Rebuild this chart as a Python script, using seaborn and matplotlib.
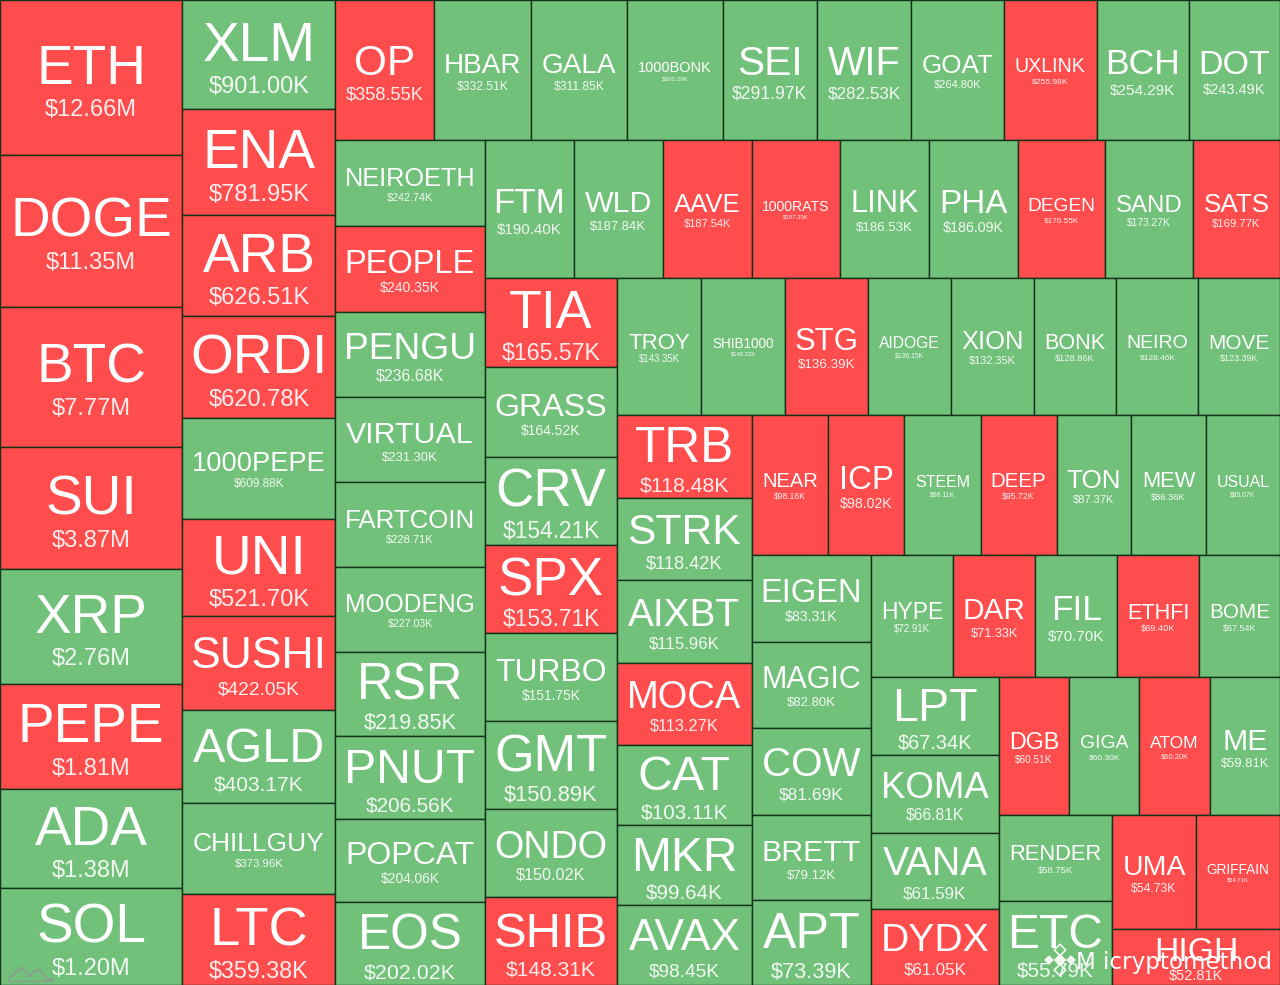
import matplotlib
matplotlib.use("Agg")
import matplotlib.pyplot as plt
from matplotlib.font_manager import FontProperties
from matplotlib.textpath import TextPath
import pandas as pd
import seaborn as sns

symbols = ["ETH", "DOGE", "BTC", "SUI", "XRP", "PEPE", "ADA", "SOL",
           "XLM", "ENA", "ARB", "ORDI", "1000PEPE", "UNI", "SUSHI", "AGLD", "CHILLGUY", "LTC",
           "OP", "HBAR", "GALA", "1000BONK", "SEI", "WIF", "GOAT", "UXLINK", "BCH", "DOT",
           "NEIROETH", "PEOPLE", "PENGU", "VIRTUAL", "FARTCOIN", "MOODENG", "RSR", "PNUT", "POPCAT", "EOS",
           "FTM", "WLD", "AAVE", "1000RATS", "LINK", "PHA", "DEGEN", "SAND", "SATS",
           "TIA", "GRASS", "CRV", "SPX", "TURBO", "GMT", "ONDO", "SHIB",
           "TROY", "SHIB1000", "STG", "AIDOGE", "XION", "BONK", "NEIRO", "MOVE",
           "TRB", "STRK", "AIXBT", "MOCA", "CAT", "MKR", "AVAX",
           "NEAR", "ICP", "STEEM", "DEEP", "TON", "MEW", "USUAL",
           "EIGEN", "MAGIC", "COW", "BRETT", "APT",
           "HYPE", "DAR", "FIL", "ETHFI", "BOME",
           "LPT", "KOMA", "VANA", "DYDX",
           "DGB", "GIGA", "ATOM", "ME",
           "RENDER", "ETC", "UMA", "GRIFFAIN", "HIGH"]

# volumes in USD thousands
volumes = [12660, 11350, 7770, 3870, 2760, 1810, 1380, 1200,
           901.00, 781.95, 626.51, 620.78, 609.88, 521.70, 422.05, 403.17, 373.96, 359.38,
           358.55, 332.51, 311.85, 300.28, 291.97, 282.53, 264.80, 255.98, 254.29, 243.49,
           242.74, 240.35, 236.68, 231.30, 228.71, 227.03, 219.85, 206.56, 204.06, 202.02,
           190.40, 187.84, 187.54, 187.35, 186.53, 186.09, 176.55, 173.27, 169.77,
           165.57, 164.52, 154.21, 153.71, 151.75, 150.89, 150.02, 148.31,
           143.35, 140.22, 136.39, 136.15, 132.35, 128.86, 128.46, 123.39,
           118.48, 118.42, 115.96, 113.27, 103.11, 99.64, 98.45,
           98.16, 98.02, 96.11, 95.72, 87.37, 86.36, 85.07,
           83.31, 82.80, 81.69, 79.12, 73.39,
           72.91, 71.33, 70.70, 69.40, 67.54,
           67.34, 66.81, 61.59, 61.05,
           60.51, 60.30, 60.20, 59.81,
           58.75, 55.79, 54.73, 54.71, 52.81]

falling = ["ETH", "DOGE", "BTC", "SUI", "PEPE", "ENA", "ARB", "ORDI", "UNI", "SUSHI", "LTC",
           "OP", "UXLINK", "PEOPLE", "AAVE", "1000RATS", "DEGEN", "SATS", "TIA", "SPX", "SHIB",
           "STG", "TRB", "MOCA", "NEAR", "ICP", "DEEP", "DAR", "ETHFI", "DYDX", "DGB", "ATOM",
           "UMA", "GRIFFAIN", "HIGH"]

# how many tiles go in each strip of the treemap
strip_counts = [8, 10, 10, 10, 9, 8, 8, 7, 7, 5, 5, 4, 4, 2, 2, 1]

W, H = 1280, 985
RED, GREEN = sns.color_palette(["#FF4C4C", "#72C17B"])
font = FontProperties(family="Liberation Sans")


def fmt(v):
    return f"${v / 1000:.2f}M" if v >= 1000 else f"${v:.2f}K"


def strip_layout(areas, counts, x, y, w, h):
    # each strip runs along the shorter side of what is left
    out = []
    i = 0
    for n in counts:
        row = areas[i:i + n]
        side = min(w, h)
        thick = sum(row) / side
        pos = 0
        for a in row:
            length = a / thick
            if w >= h:
                out.append((x, y + pos, thick, length))
            else:
                out.append((x + pos, y, length, thick))
            pos += length
        if w >= h:
            x += thick
            w -= thick
        else:
            y += thick
            h -= thick
        i += n
    return out


df = pd.DataFrame({"symbol": symbols, "volume": volumes})
# the tile area follows a strongly compressed volume
df["weight"] = df["volume"] ** 0.2
df["area"] = df["weight"] * W * H / df["weight"].sum()
df[["x", "y", "w", "h"]] = strip_layout(df["area"].tolist(), strip_counts, 0, 0, W, H)
df["color"] = [RED if s in falling else GREEN for s in df["symbol"]]

sns.set_theme(style="white")
plt.rcParams["font.family"] = ["Liberation Sans", "DejaVu Sans"]

fig, ax = plt.subplots(figsize=(12.8, 9.85), dpi=100)
fig.subplots_adjust(0, 0, 1, 1)
ax.bar(df["x"], df["h"], width=df["w"], bottom=df["y"], align="edge",
       color=df["color"], edgecolor="#12321a", linewidth=1.0)
ax.set_xlim(0, W)
ax.set_ylim(H, 0)
ax.set_axis_off()
sns.despine(ax=ax, left=True, bottom=True)

for row in df.itertuples():
    unit = TextPath((0, 0), row.symbol, size=100, prop=font).get_extents().width / 100
    # label fits the tile width, capped by tile shape and an overall maximum
    sym_px = min(55, 0.6 * row.h, 0.43 * row.w, (row.w - 23) / unit)
    val_px = 0.43 * sym_px
    cx, cy = row.x + row.w / 2, row.y + row.h / 2
    ax.text(cx, cy + 0.11 * sym_px, row.symbol, color="white", fontsize=sym_px * 0.72,
            ha="center", va="baseline")
    ax.text(cx, cy + 0.70 * sym_px, fmt(row.volume), color="white", alpha=0.9,
            fontsize=val_px * 0.72, ha="center", va="baseline")

# watermark and small logos
ax.text(1272, 962, "M icryptomethod", color="white", fontsize=16.6, ha="right", va="center",
        family="DejaVu Sans")
ax.scatter([1060, 1060], [950, 970], marker="D", s=34, facecolor="none", edgecolor="white",
           linewidth=1.2, alpha=0.9)
ax.scatter([1049, 1060, 1071], [960, 960, 960], marker="D", s=[16, 30, 16], color="white", alpha=0.9)
ax.plot([8, 16, 22, 29, 34, 40, 46, 53], [980, 972, 967, 977, 971, 970, 979, 980],
        color="#8a9a8c", linewidth=1.2)
ax.plot([8, 53], [981, 981], color="#8a9a8c", linewidth=1.0)

fig.savefig("out.png", dpi=100)
